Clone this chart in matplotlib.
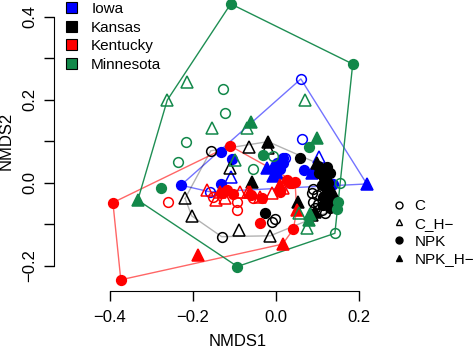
import numpy as np
import matplotlib.pyplot as plt
from matplotlib.patches import Patch
from matplotlib.lines import Line2D

plt.rcParams['font.family'] = ['Liberation Sans', 'DejaVu Sans']

# NMDS scores per state, split by treatment
iowa = {
    'C':      ([0.060, 0.062, 0.022, -0.159], [0.250, 0.105, 0.059, -0.022]),
    'C_H-':   ([0.104, -0.109], [0.063, 0.014]),
    'NPK':    ([-0.133, -0.107, -0.133, -0.229, 0.003, 0.010, 0.016, 0.067, 0.098, 0.138, 0.018],
               [0.075, 0.056, -0.003, -0.006, 0.047, 0.032, 0.047, 0.031, 0.023, -0.004, 0.059]),
    'NPK_H-': ([0.219, -0.022, -0.008, 0.002, -0.007, 0.086, 0.130],
               [-0.003, 0.035, 0.037, 0.023, 0.016, 0.024, -0.001]),
}
kansas = {
    'C':      ([-0.157, -0.131, -0.002, -0.010, 0.090, 0.086, 0.098, 0.090, 0.102, 0.094, 0.110, 0.118],
               [0.077, -0.130, -0.088, -0.094, -0.016, -0.026, -0.030, -0.046, -0.051, -0.062, -0.066, -0.074]),
    'C_H-':   ([-0.065, -0.019, -0.111, -0.219, -0.203, -0.088, -0.014],
               [0.085, 0.083, 0.035, -0.038, -0.080, -0.114, -0.128]),
    'NPK':    ([-0.027, 0.058, 0.102, 0.112, 0.122, 0.104, 0.130, 0.116, 0.126, 0.110, 0.122, 0.130, 0.114, 0.126, 0.114, 0.130],
               [-0.074, 0.059, 0.040, 0.032, 0.037, 0.024, 0.023, 0.011, -0.001, -0.006, -0.018, -0.030, -0.034, -0.046, -0.054, -0.062]),
    'NPK_H-': ([-0.019, -0.057, 0.054, 0.094, 0.130, 0.086, 0.138, 0.098],
               [0.099, 0.002, -0.046, -0.070, -0.042, -0.078, -0.026, 0.047]),
}
kentucky = {
    'C':      ([-0.261, -0.095, -0.095, -0.055, -0.151], [-0.047, -0.046, -0.066, -0.038, -0.034]),
    'C_H-':   ([-0.167, -0.135, -0.123, -0.087, -0.067, -0.039, -0.010, 0.018, -0.145],
               [-0.018, -0.022, -0.038, -0.022, -0.022, -0.034, -0.026, -0.013, -0.042]),
    'NPK':    ([-0.111, -0.393, -0.374, -0.131, -0.103, -0.059, -0.034, 0.010, 0.034, 0.046, 0.026, 0.038, -0.039, 0.042, -0.118],
               [0.089, -0.048, -0.234, -0.026, -0.027, -0.030, -0.038, -0.022, -0.001, 0.002, 0.007, -0.001, -0.098, -0.112, -0.018]),
    'NPK_H-': ([-0.187, 0.016, -0.063, 0.010, 0.050], [-0.174, -0.148, -0.022, -0.006, -0.066]),
}
minnesota = {
    'C':      ([-0.127, -0.123, -0.217, -0.237, -0.008, -0.055, 0.154, 0.142],
               [0.225, 0.169, 0.097, 0.051, 0.064, 0.032, 0.000, -0.122]),
    'C_H-':   ([-0.262, -0.215, -0.154, -0.071, 0.070, -0.099, 0.056, 0.075],
               [0.199, 0.243, 0.131, 0.131, 0.199, 0.055, -0.074, -0.110]),
    'NPK':    ([-0.109, 0.185, -0.093, -0.277, -0.031, 0.080, 0.150, 0.148],
               [0.431, 0.286, -0.202, -0.013, 0.067, 0.085, -0.046, -0.064]),
    'NPK_H-': ([-0.333, -0.059, 0.098, 0.080, 0.083], [-0.042, 0.147, 0.107, -0.090, -0.075]),
}

states = ['Iowa', 'Kansas', 'Kentucky', 'Minnesota']
state_data = [iowa, kansas, kentucky, minnesota]
state_colors = ['#0000ff', '#000000', '#ff0000', '#12884a']
hull_alpha = [0.55, 0.3, 0.6, 0.95]
treatments = ['C', 'C_H-', 'NPK', 'NPK_H-']
trt_labels = ['C', 'C_H\u2212', 'NPK', 'NPK_H\u2212']
trt_marker = {'C': 'o', 'C_H-': '^', 'NPK': 'o', 'NPK_H-': '^'}
trt_filled = {'C': False, 'C_H-': False, 'NPK': True, 'NPK_H-': True}


def convex_hull(pts):
    pts = sorted(set(map(tuple, pts)))
    def cross(o, a, b):
        return (a[0]-o[0])*(b[1]-o[1]) - (a[1]-o[1])*(b[0]-o[0])
    lower, upper = [], []
    for p in pts:
        while len(lower) >= 2 and cross(lower[-2], lower[-1], p) <= 0:
            lower.pop()
        lower.append(p)
    for p in reversed(pts):
        while len(upper) >= 2 and cross(upper[-2], upper[-1], p) <= 0:
            upper.pop()
        upper.append(p)
    return np.array(lower[:-1] + upper[:-1])


fig = plt.figure(figsize=(4.74, 3.49), dpi=100)
ax = fig.add_axes([54/474, 58/349, 368/474, 300/349])

for d, col, a in zip(state_data, state_colors, hull_alpha):
    allx = np.concatenate([d[t][0] for t in treatments])
    ally = np.concatenate([d[t][1] for t in treatments])
    h = convex_hull(np.column_stack([allx, ally]))
    h = np.vstack([h, h[:1]])
    ax.plot(h[:, 0], h[:, 1], color=col, lw=1.0, alpha=a, zorder=1)

for d, col in zip(state_data, state_colors):
    for t in treatments:
        x, y = d[t]
        ms = 7 if trt_marker[t] == 'o' else 8.5
        ax.plot(x, y, ls='none', marker=trt_marker[t], ms=ms, mew=1.1,
                mec=col, mfc=col if trt_filled[t] else 'none', zorder=2)

ax.set_xlim(-0.535, 0.352)
ax.set_ylim(-0.261, 0.462)
for s in ['top', 'right']:
    ax.spines[s].set_visible(False)
ax.spines['left'].set_bounds(-0.2, 0.4)
ax.spines['bottom'].set_bounds(-0.4, 0.2)
ax.set_xticks([-0.4, -0.2, 0.0, 0.2])
ax.set_xticklabels(['\u22120.4', '\u22120.2', '0.0', '0.2'])
ax.set_yticks([-0.2, -0.1, 0.0, 0.1, 0.2, 0.3, 0.4])
ax.set_yticklabels(['\u22120.2', '', '0.0', '', '0.2', '', '0.4'], rotation=90, va='center')
ax.tick_params(length=7, width=1, labelsize=12, pad=5)
ax.tick_params(axis='x', pad=7)
ax.set_xlabel('NMDS1', fontsize=12, labelpad=6)
ax.set_ylabel('NMDS2', fontsize=12, labelpad=6)

h1 = [Patch(facecolor=c, edgecolor='black', lw=0.8) for c in state_colors]
leg1 = fig.legend(h1, states, loc='upper left', bbox_to_anchor=(66/474, 1 - 2/349),
                  frameon=False, fontsize=11, handlelength=0.75, handleheight=0.75,
                  handletextpad=0.9, labelspacing=0.3, borderpad=0, borderaxespad=0)

h2 = [Line2D([], [], ls='none', marker=trt_marker[t], ms=5, mew=1.0, mec='black',
             mfc='black' if trt_filled[t] else 'none') for t in treatments]
leg2 = fig.legend(h2, trt_labels, loc='upper left', bbox_to_anchor=(393/474, 1 - 199/349),
                  frameon=False, fontsize=11, handlelength=0.8,
                  handletextpad=0.6, labelspacing=0.25, borderpad=0, borderaxespad=0)

fig.savefig('out.png', dpi=100)
